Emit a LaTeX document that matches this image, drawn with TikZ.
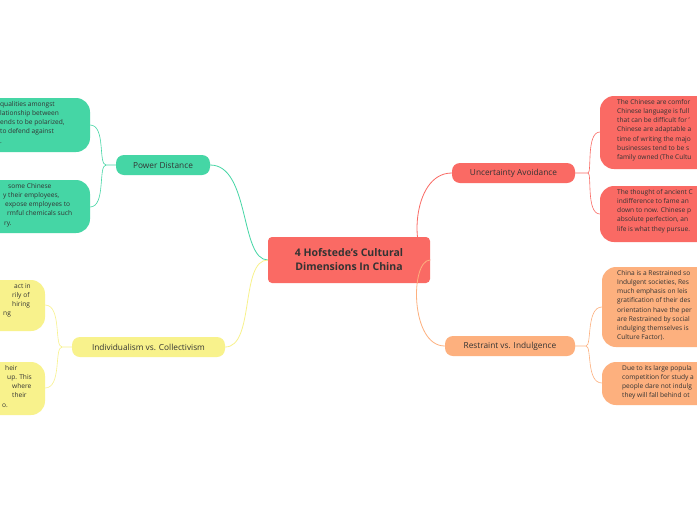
\documentclass[tikz,border=0pt]{standalone}
\usepackage{fontspec}
\setmainfont{Open Sans}
\definecolor{cred}{HTML}{FA6A64}
\definecolor{cgreen}{HTML}{45D6A5}
\definecolor{cyel}{HTML}{F8F28C}
\definecolor{corg}{HTML}{FDB07E}
\definecolor{ctxt}{HTML}{333333}
\tikzset{
  branch/.style={rounded corners=8pt, inner sep=0pt, minimum height=20pt, font=\fontsize{8.3}{9}\selectfont, text=ctxt},
  leaftext/.style={anchor=north west, align=left, inner sep=0pt, font=\fontsize{6.6}{9.2}\selectfont, text=ctxt},
  conn/.style={line width=0.8pt},
}
\begin{document}
\begin{tikzpicture}[x=1pt,y=-1pt]
\useasboundingbox (0,0) rectangle (697,520);
\fill[white] (0,0) rectangle (697,520);
% center
\node[branch, fill=cred, rounded corners=4pt, minimum width=162pt, minimum height=46pt, font=\bfseries\fontsize{10.5}{14}\selectfont, align=center, text=ctxt] (c) at (349,260) {4 Hofstede's Cultural\\Dimensions In China};
% branches
\node[branch, fill=cgreen, minimum width=94pt] (pd) at (163,165) {Power Distance};
\node[branch, fill=cyel, minimum width=153pt] (ic) at (148.5,347) {Individualism vs. Collectivism};
\node[branch, fill=cred, minimum width=123pt] (ua) at (513.5,173) {Uncertainty Avoidance};
\node[branch, fill=corg, minimum width=130pt] (ri) at (510,346) {Restraint vs. Indulgence};
% connectors center
\draw[conn, cgreen] (c.west) .. controls (240,260) and (250,165) .. (pd.east);
\draw[conn, cyel] (c.west) .. controls (240,260) and (255,347) .. (ic.east);
\draw[conn, cred] (c.east) .. controls (410,260) and (410,173) .. (ua.west);
\draw[conn, corg] (c.east) .. controls (410,260) and (410,346) .. (ri.west);
% leaves
\fill[cgreen, rounded corners=14pt] (-30,98) rectangle (90,152); \coordinate (pd1) at (90,125);
\fill[cgreen, rounded corners=14pt] (-30,180) rectangle (90,233); \coordinate (pd2) at (90,207);
\fill[cyel, rounded corners=14pt] (-30,280) rectangle (45,331); \coordinate (ic1) at (45,305);
\fill[cyel, rounded corners=14pt] (-30,362) rectangle (45,415); \coordinate (ic2) at (45,388);
\fill[cred, rounded corners=14pt] (600,96) rectangle (730,169); \coordinate (ua1) at (600,132);
\fill[cred, rounded corners=14pt] (600,186) rectangle (730,242); \coordinate (ua2) at (600,214);
\fill[corg, rounded corners=14pt] (602,267) rectangle (730,347); \coordinate (ri1) at (602,307);
\fill[corg, rounded corners=14pt] (602,362) rectangle (730,405); \coordinate (ri2) at (602,383);
% leaf connectors
\coordinate (pdj) at (106,165); \coordinate (icj) at (62,347);
\coordinate (uaj) at (588,173); \coordinate (rij) at (586,346);
\draw[cgreen, line width=0.6pt] (pd.west) -- (pdj) .. controls (98,165) and (106,125) .. (pd1);
\draw[cgreen, line width=0.6pt] (pdj) .. controls (98,165) and (106,207) .. (pd2);
\draw[cyel, line width=0.6pt] (ic.west) -- (icj) .. controls (54,347) and (62,305) .. (ic1);
\draw[cyel, line width=0.6pt] (icj) .. controls (54,347) and (62,388) .. (ic2);
\draw[cred, line width=0.6pt] (ua.east) -- (uaj) .. controls (592,173) and (586,132) .. (ua1);
\draw[cred, line width=0.6pt] (uaj) .. controls (592,173) and (586,214) .. (ua2);
\draw[corg, line width=0.6pt] (ri.east) -- (rij) .. controls (592,346) and (586,307) .. (ri1);
\draw[corg, line width=0.6pt] (rij) .. controls (592,346) and (586,383) .. (ri2);
% leaf texts
\node[leaftext] (t1) at (0,101) {qualities amongst\\lationship between\\ends to be polarized,\\to defend against\\.};
\node[leaftext] (t2) at (3,183) {\hspace*{5pt}some Chinese\\y their employees,\\\hspace*{2pt}expose employees to\\\hspace*{4pt}rmful chemicals such\\\hspace*{1pt}ry.};
\node[leaftext] (t3) at (3,283) {\hspace*{11pt}act in\\\hspace*{9pt}rily of\\\hspace*{9pt}hiring\\ng};
\node[leaftext] (t4) at (2,365) {\hspace*{3pt}heir\\\hspace*{5pt}up. This\\\hspace*{10pt}where\\\hspace*{10pt}their\\o.};
\node[leaftext] (t5) at (617,99) {The Chinese are comfor\\Chinese language is full\\that can be difficult for '\\Chinese are adaptable a\\time of writing the majo\\businesses tend to be s\\family owned (The Cultu};
\node[leaftext] (t6) at (617,189) {The thought of ancient C\\indifference to fame an\\down to now. Chinese p\\absolute perfection, an\\life is what they pursue.};
\node[leaftext] (t7) at (617,270) {China is a Restrained so\\Indulgent societies, Res\\much emphasis on leis\\gratification of their des\\orientation have the per\\are Restrained by social\\indulging themselves is\\Culture Factor).};
\node[leaftext] (t8) at (622,365) {Due to its large popula\\competition for study a\\people dare not indulg\\they will fall behind ot};
\end{tikzpicture}
\end{document}
